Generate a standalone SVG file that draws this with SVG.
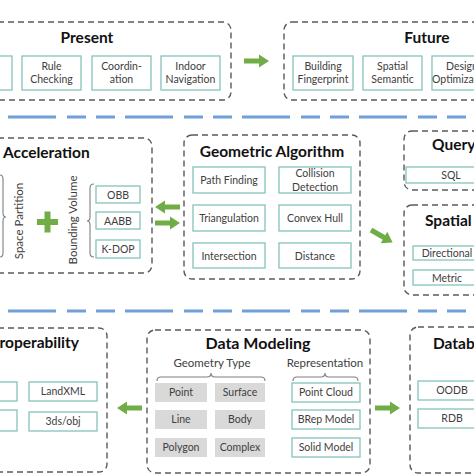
<svg xmlns="http://www.w3.org/2000/svg" width="474" height="474" viewBox="0 0 474 474">
<style>
.grp{fill:none;stroke:#595959;stroke-width:1.4;stroke-dasharray:6 4}
.box{fill:#fff;stroke:#84c3ba;stroke-width:1.3}
.gbox{fill:#d9d9d9;stroke:none}
.t{font-family:Lato,"Open Sans",sans-serif;font-size:10.5px;fill:#404040;text-anchor:middle}
.ttl{font-family:Lato,"Open Sans",sans-serif;font-size:15.5px;font-weight:bold;fill:#111}
.sub{font-family:Lato,"Open Sans",sans-serif;font-size:11.5px;fill:#404040;text-anchor:middle}
.sep{fill:none;stroke:#6f9fd6;stroke-width:3;stroke-dasharray:48 11 19 10 19 10}
.brace{fill:none;stroke:#7f7f7f;stroke-width:1.1}
.arrow{fill:#70ad47}
</style>
<defs>
<path id="arr" d="M0,-2.6 H15 V-6.5 L25,0 L15,6.5 V2.6 H0 Z"/>
</defs>

<g id="separators">
<line class="sep" x1="8" y1="117" x2="466" y2="117"/>
<line class="sep" x1="8" y1="311" x2="466" y2="311"/>
</g>

<g id="present">
<rect class="grp" x="-60" y="22" width="291" height="78" rx="8"/>
<text class="ttl" x="87" y="43" text-anchor="middle">Present</text>
<rect class="box" x="-47" y="56" width="59" height="34"/>
<rect class="box" x="22" y="56" width="59" height="34"/>
<text class="t" x="51.5" y="70">Rule</text>
<text class="t" x="51.5" y="83">Checking</text>
<rect class="box" x="92" y="56" width="59" height="34"/>
<text class="t" x="121.5" y="70">Coordin-</text>
<text class="t" x="121.5" y="83">ation</text>
<rect class="box" x="161" y="56" width="59" height="34"/>
<text class="t" x="190.5" y="70">Indoor</text>
<text class="t" x="190.5" y="83">Navigation</text>
</g>

<g id="future">
<rect class="grp" x="284" y="22" width="240" height="78" rx="8"/>
<text class="ttl" x="427" y="43" text-anchor="middle">Future</text>
<rect class="box" x="293" y="56" width="60" height="34"/>
<text class="t" x="323" y="70">Building</text>
<text class="t" x="323" y="83">Fingerprint</text>
<rect class="box" x="363" y="56" width="59" height="34"/>
<text class="t" x="392.5" y="70">Spatial</text>
<text class="t" x="392.5" y="83">Semantic</text>
<rect class="box" x="432" y="56" width="60" height="34"/>
<text class="t" x="462" y="70">Design</text>
<text class="t" x="462" y="83">Optimization</text>
</g>

<g id="acceleration">
<rect class="grp" x="-60" y="138" width="212" height="135" rx="8"/>
<text class="ttl" x="3" y="158">Acceleration</text>
<path class="brace" d="M0,175 Q3,175 3,179 V213 Q3,217 6,217 Q3,217 3,221 V253 Q3,257 0,257"/>
<text class="sub" transform="translate(19,221) rotate(-90)" x="0" y="4">Space Partition</text>
<rect class="arrow" x="37" y="219" width="21" height="6"/>
<rect class="arrow" x="44.5" y="211.5" width="6" height="21"/>
<text class="sub" transform="translate(73,220) rotate(-90)" x="0" y="4">Bounding Volume</text>
<path class="brace" d="M94,184 Q90,184 90,188 V217 Q90,221 87,221 Q90,221 90,225 V253 Q90,257 94,257"/>
<rect class="box" x="96" y="186" width="44" height="17"/>
<text class="t" x="118" y="198.5">OBB</text>
<rect class="box" x="96" y="212" width="44" height="17"/>
<text class="t" x="118" y="224.5">AABB</text>
<rect class="box" x="96" y="240" width="44" height="18"/>
<text class="t" x="118" y="253">K-DOP</text>
</g>

<g id="geometric-algorithm">
<rect class="grp" x="184" y="135" width="176" height="144" rx="8"/>
<text class="ttl" x="272" y="157" text-anchor="middle">Geometric Algorithm</text>
<rect class="box" x="193" y="167" width="72" height="26"/>
<text class="t" x="229" y="184">Path Finding</text>
<rect class="box" x="279" y="167" width="72" height="26"/>
<text class="t" x="315" y="177">Collision</text>
<text class="t" x="315" y="191">Detection</text>
<rect class="box" x="193" y="205" width="72" height="26"/>
<text class="t" x="229" y="222">Triangulation</text>
<rect class="box" x="279" y="205" width="72" height="26"/>
<text class="t" x="315" y="222">Convex Hull</text>
<rect class="box" x="193" y="243" width="72" height="25"/>
<text class="t" x="229" y="259.5">Intersection</text>
<rect class="box" x="279" y="243" width="72" height="25"/>
<text class="t" x="315" y="259.5">Distance</text>
</g>

<g id="query">
<rect class="grp" x="404" y="131" width="120" height="59" rx="8"/>
<text class="ttl" x="432" y="150">Query</text>
<rect class="box" x="406" y="167" width="90" height="16"/>
<text class="t" x="451" y="179">SQL</text>
</g>

<g id="spatial">
<rect class="grp" x="404" y="205" width="120" height="90" rx="8"/>
<text class="ttl" x="425" y="226">Spatial</text>
<rect class="box" x="413" y="246" width="68" height="14"/>
<text class="t" x="447" y="257">Directional</text>
<rect class="box" x="413" y="270" width="68" height="15"/>
<text class="t" x="447" y="281.5">Metric</text>
</g>

<g id="interoperability">
<rect class="grp" x="-60" y="328" width="167" height="144" rx="8"/>
<text class="ttl" x="79" y="348" text-anchor="end">Interoperability</text>
<rect class="box" x="-50" y="382" width="67" height="19"/>
<rect class="box" x="-50" y="410" width="67" height="21"/>
<rect class="box" x="29" y="382" width="68" height="19"/>
<text class="t" x="63" y="395">LandXML</text>
<rect class="box" x="29" y="412" width="68" height="19"/>
<text class="t" x="63" y="425">3ds/obj</text>
</g>

<g id="data-modeling">
<rect class="grp" x="147" y="330" width="223" height="143" rx="8"/>
<text class="ttl" x="258" y="349" text-anchor="middle" style="font-size:16px">Data Modeling</text>
<text class="sub" x="212" y="367">Geometry Type</text>
<path class="brace" d="M157,381 Q157,377 161,377 H207 Q211,377 211,373 Q211,377 215,377 H261 Q265,377 265,381"/>
<text class="sub" x="325" y="367">Representation</text>
<path class="brace" d="M293,381 Q293,377 297,377 H321 Q325,377 325,373 Q325,377 329,377 H354 Q358,377 358,381"/>
<rect class="gbox" x="155" y="383" width="52" height="19"/>
<text class="t" x="181" y="396">Point</text>
<rect class="gbox" x="215" y="383" width="50" height="19"/>
<text class="t" x="240" y="396">Surface</text>
<rect class="gbox" x="155" y="410" width="52" height="19"/>
<text class="t" x="181" y="423">Line</text>
<rect class="gbox" x="215" y="410" width="50" height="19"/>
<text class="t" x="240" y="423">Body</text>
<rect class="gbox" x="155" y="438" width="52" height="19"/>
<text class="t" x="181" y="451">Polygon</text>
<rect class="gbox" x="215" y="438" width="50" height="19"/>
<text class="t" x="240" y="451">Complex</text>
<rect class="box" x="292" y="383" width="68" height="19"/>
<text class="t" x="326" y="396">Point Cloud</text>
<rect class="box" x="292" y="410" width="68" height="19"/>
<text class="t" x="326" y="423">BRep Model</text>
<rect class="box" x="292" y="438" width="68" height="19"/>
<text class="t" x="326" y="451">Solid Model</text>
</g>

<g id="database">
<rect class="grp" x="410" y="327" width="120" height="146" rx="8"/>
<text class="ttl" x="433" y="349">Database</text>
<rect class="box" x="418" y="381" width="68" height="19"/>
<text class="t" x="452" y="394">OODB</text>
<rect class="box" x="418" y="409" width="68" height="19"/>
<text class="t" x="452" y="422">RDB</text>
</g>

<g id="connectors" class="arrow">
<use href="#arr" transform="translate(244,61)"/>
<use href="#arr" transform="translate(180,207) rotate(180)"/>
<use href="#arr" transform="translate(155,223)"/>
<use href="#arr" transform="translate(371,230) rotate(30)"/>
<use href="#arr" transform="translate(142,408) rotate(180)"/>
<use href="#arr" transform="translate(375,408)"/>
</g>
</svg>
